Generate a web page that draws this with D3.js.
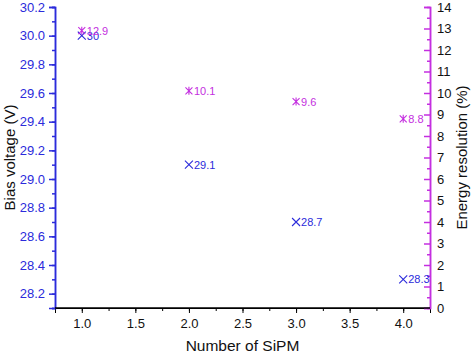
<!DOCTYPE html>
<html><head><meta charset="utf-8">
<script src="https://cdn.jsdelivr.net/npm/d3@7"></script>
<style>body{margin:0;background:#fff}svg{display:block;font-family:"Liberation Sans",Arial,sans-serif}</style>
</head><body><svg id="c" width="474" height="355"></svg>
<script>
const sipm = [1, 2, 3, 4];
const biasVoltage = [30.0, 29.1, 28.7, 28.3];
const biasLabels = ["30", "29.1", "28.7", "28.3"];
const energyRes = [12.9, 10.1, 9.6, 8.8];
const energyLabels = ["12.9", "10.1", "9.6", "8.8"];
const xTicks = [1.0, 1.5, 2.0, 2.5, 3.0, 3.5, 4.0];
const leftTicks = [28.2, 28.4, 28.6, 28.8, 29.0, 29.2, 29.4, 29.6, 29.8, 30.0, 30.2];
const rightTicks = [0,1,2,3,4,5,6,7,8,9,10,11,12,13,14];

const blue = "#2b2bdb", mag = "#c42fe0";
const svg = d3.select("#c");
const L = 55, R = 430, T = 7, B = 308;
const x = d3.scaleLinear().domain([0.75, 4.25]).range([L, R]);
const yL = d3.scaleLinear().domain([28.1, 30.2]).range([B, T]);
const yR = d3.scaleLinear().domain([0, 14]).range([B, T]);

// x axis
const gx = svg.append("g").attr("transform", `translate(0,${B})`);
gx.call(d3.axisBottom(x).tickValues(d3.range(0.75, 4.26, 0.25)).tickSize(3).tickFormat(""));
gx.call(g => g.selectAll(".tick line").attr("stroke", "#000"));
const gx2 = svg.append("g").attr("transform", `translate(0,${B})`);
gx2.call(d3.axisBottom(x).tickValues(xTicks).tickSize(5).tickPadding(6).tickFormat(d3.format(".1f")));
gx2.selectAll("text").attr("font-size", 13).attr("fill", "#111");
svg.selectAll("g .domain").attr("stroke", "#000");

// left axis
const gl = svg.append("g").attr("transform", `translate(${L},0)`);
gl.call(d3.axisLeft(yL).tickValues(d3.range(28.1, 30.21, 0.1)).tickSize(3).tickFormat(""));
const gl2 = svg.append("g").attr("transform", `translate(${L},0)`);
gl2.call(d3.axisLeft(yL).tickValues(leftTicks).tickSize(6).tickPadding(4).tickFormat(d3.format(".1f")));
gl2.selectAll("text").attr("font-size", 13).attr("fill", blue);
[gl, gl2].forEach(g => { g.selectAll(".domain,.tick line").attr("stroke", blue).attr("stroke-width", 1.5); });

// right axis (ticks inward)
const gr = svg.append("g").attr("transform", `translate(${R},0)`);
gr.call(d3.axisLeft(yR).tickValues(d3.range(0.5, 14, 1)).tickSize(3).tickFormat(""));
const gr2 = svg.append("g").attr("transform", `translate(${R},0)`);
gr2.call(d3.axisLeft(yR).tickValues(rightTicks).tickSize(6).tickFormat(""));
[gr, gr2].forEach(g => { g.selectAll(".domain,.tick line").attr("stroke", mag).attr("stroke-width", 1.5); });
svg.append("g").selectAll("text").data(rightTicks).join("text")
  .attr("x", R + 7).attr("y", d => yR(d)).attr("dy", "0.36em")
  .attr("font-size", 13).attr("fill", "#111").text(d => d);

// x axis line redraw on top (black)
svg.append("line").attr("x1", L).attr("x2", R).attr("y1", B).attr("y2", B).attr("stroke", "#000").attr("stroke-width", 1.5);

// bias markers (x)
const s = 4;
const bg = svg.append("g");
sipm.forEach((d, i) => {
  const cx = x(d), cy = yL(biasVoltage[i]);
  bg.append("path").attr("d", `M${cx-s},${cy-s}L${cx+s},${cy+s}M${cx-s},${cy+s}L${cx+s},${cy-s}`)
    .attr("stroke", blue).attr("stroke-width", 1.1).attr("fill", "none");
  bg.append("text").attr("x", cx + 5).attr("y", cy).attr("dy", "0.36em")
    .attr("font-size", 11).attr("fill", blue).text(biasLabels[i]);
});
// energy markers (*)
const eg = svg.append("g");
sipm.forEach((d, i) => {
  const cx = x(d), cy = yR(energyRes[i]);
  const a = 3.5;
  eg.append("path").attr("d", `M${cx-a},${cy-a}L${cx+a},${cy+a}M${cx-a},${cy+a}L${cx+a},${cy-a}M${cx},${cy-a-0.5}L${cx},${cy+a+0.5}`)
    .attr("stroke", mag).attr("stroke-width", 1.1).attr("fill", "none");
  eg.append("text").attr("x", cx + 5).attr("y", cy).attr("dy", "0.36em")
    .attr("font-size", 11).attr("fill", mag).text(energyLabels[i]);
});

// titles
svg.append("text").attr("x", (L + R) / 2).attr("y", 351).attr("text-anchor", "middle")
  .attr("font-size", 15.5).attr("fill", "#111").text("Number of SiPM");
svg.append("text").attr("transform", `translate(15,${(T + B) / 2}) rotate(-90)`).attr("text-anchor", "middle")
  .attr("font-size", 15).attr("fill", "#111").text("Bias voltage (V)");
svg.append("text").attr("transform", `translate(467,${(T + B) / 2}) rotate(-90)`).attr("text-anchor", "middle")
  .attr("font-size", 15).attr("fill", "#111").text("Energy resolution (%)");
</script></body></html>
